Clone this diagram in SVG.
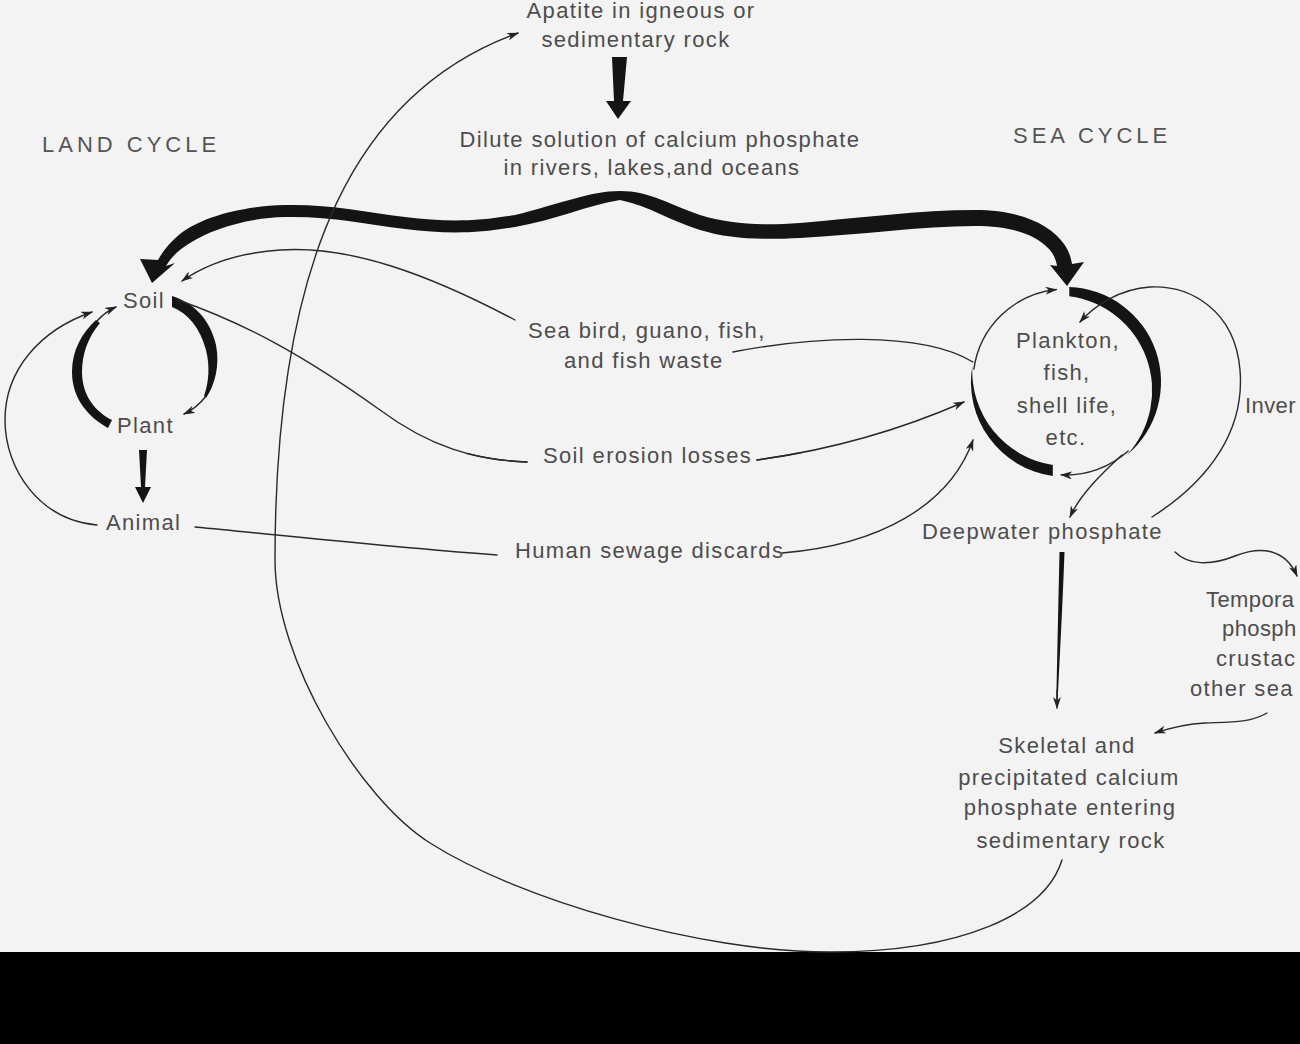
<svg xmlns="http://www.w3.org/2000/svg" width="1300" height="1044" viewBox="0 0 1300 1044">
<defs>
<style>
.t{font-family:"Liberation Sans",Arial,sans-serif;font-size:22px;fill:#4d4d4d;letter-spacing:1.35px}
.e{font-family:"Liberation Sans",Arial,sans-serif;font-size:22px;fill:#4d4d4d;letter-spacing:0.4px}
.h{font-family:"Liberation Sans",Arial,sans-serif;font-size:22px;fill:#555;letter-spacing:4px}
.ln{fill:none;stroke:#2a2a2a;stroke-width:1.4;stroke-linecap:round}
.fill{fill:#141414;stroke:none}
</style>
<marker id="ah" viewBox="0 0 12 8" refX="11" refY="4" markerWidth="12" markerHeight="8" markerUnits="userSpaceOnUse" orient="auto">
<path d="M0,0 L12,4 L0,8 L3.5,4 Z" fill="#222"/>
</marker>
</defs>
<rect width="1300" height="1044" fill="#f3f3f3"/>
<rect x="0" y="952" width="1300" height="92" fill="#000"/>

<g id="connectors">
<path class="fill" d="M620,191 C590,191 560,204 515,215 C475,222 445,222 405,217 C365,212 330,204 285,205 C240,206 200,218 180,234 C170,242 163,251 158,260 L140,259 L152,283 L175,263 L166,266 C172,256 180,249 190,243 C210,230 245,218 285,217 C330,216 365,224 405,229 C445,234 475,234 515,227 C555,220 585,206 620,200 Z"/>
<path class="fill" d="M620,191 C650,191 670,205 700,215 C730,224 760,226 800,223 C860,218 920,210 975,210 C1020,210 1050,224 1064,244 C1069,251 1071,258 1072,264 L1084,262 L1067,286 L1050,265 L1057,266 C1056,259 1053,253 1048,248 C1035,234 1010,226 975,226 C920,226 860,235 800,238 C760,240 730,239 700,230 C670,221 650,206 620,200 Z"/>
<polygon class="fill" points="612,57 627,57 623,101 631,101 618,119 606,101 614,101"/>
<path class="ln" marker-end="url(#ah)" d="M1062,860 C1045,915 960,952 830,952 C700,952 520,900 430,843 C360,799 275,660 275,560 C275,250 360,90 518,33"/>
<path class="fill" d="M108,428 C90,418 72,400 72,372 C72,350 82,333 96,320 L100,323 C88,337 82,354 82,372 C82,396 96,412 112,420 Z"/>
<path class="ln" marker-end="url(#ah)" d="M97,321 Q105,312 116,307"/>
<path class="fill" d="M172,296 C192,302 210,318 216,345 C220,365 215,385 206,398 L204,396 C209,382 210,366 206,350 C200,328 188,313 172,307 Z"/>
<path class="ln" marker-end="url(#ah)" d="M206,396 Q197,408 184,414"/>
<polygon class="fill" points="139,450 147,450 145,487 151,487 143,503 135,487 141,487"/>
<path class="ln" marker-end="url(#ah)" d="M97,525 C40,520 5,470 5,420 C5,370 40,330 92,312"/>
<path class="ln" marker-end="url(#ah)" d="M515,320 C430,275 350,245 280,250 C235,253 205,265 182,281"/>
<path class="ln" d="M733,352 C810,337 920,330 973,362"/>
<path class="ln" stroke-width="2" d="M178,300 C250,325 310,360 380,410 C430,447 475,460 527,462"/>
<path class="ln" stroke-width="3.4" d="M467,453.5 C486.5,458.6 506.2,461.2 527,462"/>
<path class="ln" stroke-width="2.4" marker-end="url(#ah)" d="M757,460 C830,450 900,430 964,402"/>
<path class="ln" stroke-width="3.4" d="M757,460 C771.6,458 786.1,455.6 800.4,452.8"/>
<path class="ln" d="M195,527 C300,537 400,548 497,555"/>
<path class="ln" marker-end="url(#ah)" d="M782,553 C880,545 950,505 973,440"/>
<path class="fill" d="M1069.3,287.1 A95,95 0 0,1 1127.1,454.8 A95,95 0 0,0 1069.3,296.3 Z"/>
<path class="ln" stroke-width="2" marker-end="url(#ah)" d="M1128.2,451.1 A93,93 0 0,1 1061.1,474.9"/>
<path class="fill" d="M1052.8,476.1 A95,95 0 0,1 972.4,365.5 A95,95 0 0,0 1052.8,465.0 Z"/>
<path class="ln" stroke-width="2" marker-end="url(#ah)" d="M973.9,369.1 A93,93 0 0,1 1056.3,289.5"/>
<path class="ln" marker-end="url(#ah)" d="M1122,455 C1100,475 1080,495 1070,517"/>
<path class="ln" marker-end="url(#ah)" d="M1152,517 C1210,480 1245,430 1240,370 C1235,310 1190,285 1150,287 C1120,289 1095,305 1080,322"/>
<path class="fill" d="M1059.5,552 L1064.5,552 C1062,620 1059,670 1057.8,700 L1056.4,700 C1057,670 1058,620 1059.5,552 Z"/>
<path class="ln" marker-end="url(#ah)" d="M1057,690 L1057,708"/>
<path class="ln" marker-end="url(#ah)" d="M1175,552 C1188,565 1210,566 1235,556 C1260,546 1285,548 1297,576"/>
<path class="ln" marker-end="url(#ah)" d="M1267,713 C1250,723 1230,722 1205,723 C1185,724 1170,728 1155,733"/>
</g>

<g id="apatite"><text class="t" text-anchor="middle"><tspan x="641" y="18">Apatite in igneous or</tspan><tspan x="636" y="47">sedimentary rock</tspan></text></g>
<g id="dilute"><text class="t" text-anchor="middle"><tspan x="660" y="147">Dilute solution of calcium phosphate</tspan><tspan x="652" y="175">in rivers, lakes,and oceans</tspan></text></g>
<g id="land-cycle"><text class="h" x="42" y="152">LAND CYCLE</text></g>
<g id="sea-cycle"><text class="h" x="1013" y="143">SEA CYCLE</text></g>
<g id="soil"><text class="t" x="123" y="308">Soil</text></g>
<g id="plant"><text class="t" x="117" y="433">Plant</text></g>
<g id="animal"><text class="t" x="106" y="530">Animal</text></g>
<g id="sea-bird"><text class="t"><tspan x="528" y="338">Sea bird, guano, fish,</tspan><tspan x="564" y="368">and fish waste</tspan></text></g>
<g id="soil-erosion"><text class="t" x="543" y="463">Soil erosion losses</text></g>
<g id="human-sewage"><text class="t" x="515" y="558">Human sewage discards</text></g>
<g id="plankton"><text class="t" text-anchor="middle"><tspan x="1068" y="348">Plankton,</tspan><tspan x="1067" y="380">fish,</tspan><tspan x="1067" y="413">shell life,</tspan><tspan x="1066" y="445">etc.</tspan></text></g>
<g id="invertebrates"><text class="e" x="1245" y="413">Inver</text></g>
<g id="deepwater"><text class="t" x="922" y="539">Deepwater phosphate</text></g>
<g id="temporary"><text class="e"><tspan x="1206" y="607">Tempora</tspan><tspan x="1222" y="636">phosph</tspan></text><text class="t"><tspan x="1216" y="666">crustac</tspan><tspan x="1190" y="696">other sea</tspan></text></g>
<g id="skeletal"><text class="t" text-anchor="middle"><tspan x="1067" y="753">Skeletal and</tspan><tspan x="1069" y="785">precipitated calcium</tspan><tspan x="1070" y="815">phosphate entering</tspan><tspan x="1071" y="848">sedimentary rock</tspan></text></g>
</svg>
